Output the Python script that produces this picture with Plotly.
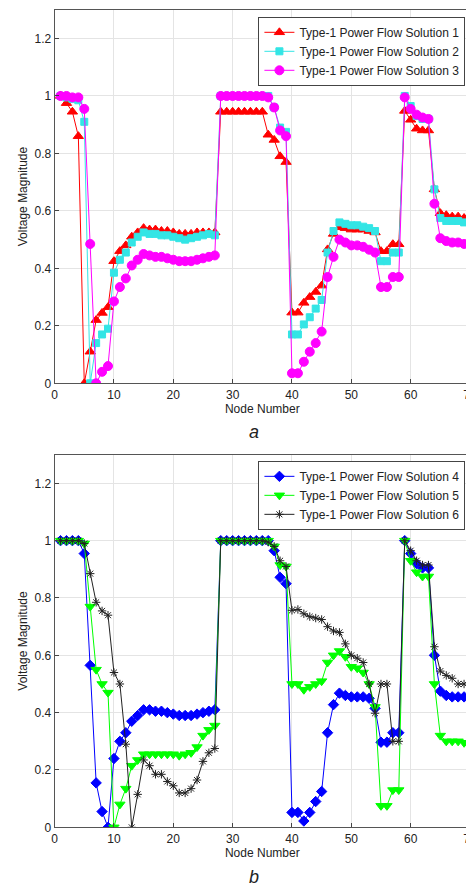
import plotly.graph_objects as go

nodes = list(range(1, 70))
sol1 = [1.0,0.975,0.945,0.86,0.0,0.11,0.22,0.245,0.265,0.425,0.46,0.48,0.51,0.525,0.54,0.535,0.535,0.53,0.53,0.525,0.52,0.52,0.52,0.525,0.525,0.525,0.525,
        0.945,0.945,0.945,0.945,0.945,0.945,0.945,0.945,0.865,0.847,0.79,0.77,0.246,0.246,0.28,0.3,0.318,0.34,0.466,0.52,0.543,0.54,0.535,0.535,0.535,0.53,0.525,
        0.46,0.46,0.484,0.484,0.948,0.917,0.886,0.88,0.88,0.675,0.592,0.585,0.58,0.58,0.575]
sol2 = [1.0,0.995,0.99,0.985,0.91,0.0,0.14,0.17,0.19,0.385,0.43,0.455,0.49,0.51,0.525,0.52,0.52,0.515,0.515,0.51,0.505,0.5,0.505,0.51,0.515,0.52,0.515,
        1.0,1.0,1.0,1.0,1.0,1.0,1.0,1.0,1.0,0.96,0.89,0.875,0.17,0.17,0.205,0.23,0.26,0.29,0.455,0.53,0.56,0.555,0.55,0.55,0.545,0.54,0.53,
        0.425,0.425,0.455,0.455,1.0,0.965,0.93,0.92,0.92,0.675,0.575,0.565,0.565,0.565,0.56]
sol3 = [1.0,1.0,0.995,0.995,0.955,0.485,0.0,0.04,0.06,0.285,0.335,0.365,0.41,0.43,0.45,0.445,0.44,0.44,0.435,0.43,0.425,0.425,0.425,0.43,0.435,0.44,0.445,
        1.0,1.0,1.0,1.0,1.0,1.0,1.0,1.0,0.995,0.96,0.88,0.86,0.035,0.035,0.075,0.11,0.14,0.18,0.37,0.44,0.5,0.49,0.48,0.48,0.475,0.465,0.455,
        0.335,0.335,0.37,0.37,0.995,0.955,0.935,0.925,0.92,0.625,0.505,0.495,0.49,0.49,0.485]
sol4 = [1.0,1.0,1.0,1.0,0.955,0.565,0.155,0.055,0.0,0.24,0.3,0.33,0.37,0.39,0.41,0.41,0.405,0.405,0.4,0.395,0.39,0.39,0.39,0.395,0.4,0.405,0.41,
        1.0,1.0,1.0,1.0,1.0,1.0,1.0,1.0,1.0,0.965,0.872,0.85,0.052,0.052,0.022,0.052,0.09,0.125,0.33,0.428,0.468,0.46,0.455,0.455,0.455,0.45,0.415,
        0.297,0.297,0.33,0.33,1.0,0.955,0.92,0.905,0.905,0.6,0.475,0.46,0.455,0.455,0.455]
sol5 = [1.0,1.0,1.0,1.0,0.99,0.77,0.55,0.5,0.47,0.0,0.08,0.135,0.215,0.235,0.255,0.255,0.255,0.255,0.255,0.255,0.25,0.255,0.26,0.28,0.32,0.34,0.355,
        1.0,1.0,1.0,1.0,1.0,1.0,1.0,1.0,1.0,0.98,0.915,0.91,0.5,0.5,0.48,0.49,0.5,0.51,0.575,0.6,0.615,0.595,0.56,0.555,0.54,0.5,0.42,
        0.075,0.075,0.13,0.13,1.0,0.93,0.89,0.875,0.875,0.5,0.32,0.3,0.3,0.3,0.295]
sol6 = [1.0,1.0,1.0,1.0,0.99,0.885,0.785,0.755,0.74,0.54,0.5,0.29,0.0,0.115,0.235,0.215,0.185,0.185,0.16,0.145,0.12,0.12,0.135,0.165,0.23,0.26,0.275,
        1.0,1.0,1.0,1.0,1.0,1.0,1.0,1.0,0.995,0.98,0.93,0.91,0.757,0.76,0.745,0.735,0.73,0.725,0.7,0.685,0.68,0.64,0.6,0.59,0.575,0.5,0.398,
        0.5,0.5,0.3,0.3,1.0,0.965,0.93,0.915,0.915,0.63,0.545,0.53,0.52,0.5,0.5]

x_ticks = [0, 10, 20, 30, 40, 50, 60, 70]
y_ticks = [0, 0.2, 0.4, 0.6, 0.8, 1, 1.2]
y_labels = ["0", "0.2", "0.4", "0.6", "0.8", "1", "1.2"]

fig = go.Figure()
series = [
    (sol1, "Type-1 Power Flow Solution 1", "#ff0000", "triangle-up", 9, "x", "y", "legend"),
    (sol2, "Type-1 Power Flow Solution 2", "#33e5e5", "square", 7, "x", "y", "legend"),
    (sol3, "Type-1 Power Flow Solution 3", "#ff00ff", "circle", 9, "x", "y", "legend"),
    (sol4, "Type-1 Power Flow Solution 4", "#0000ff", "diamond", 8, "x2", "y2", "legend2"),
    (sol5, "Type-1 Power Flow Solution 5", "#00ff00", "triangle-down", 9, "x2", "y2", "legend2"),
    (sol6, "Type-1 Power Flow Solution 6", "#222222", "asterisk-open", 7, "x2", "y2", "legend2"),
]
for vals, name, col, sym, sz, xa, ya, lg in series:
    fig.add_trace(go.Scatter(x=nodes, y=vals, name=name, mode="lines+markers",
                             line=dict(color=col, width=1),
                             marker=dict(symbol=sym, size=sz, color=col, line=dict(color=col, width=1)),
                             xaxis=xa, yaxis=ya, legend=lg))

ax = dict(showline=True, linecolor="#555", mirror=True, showgrid=True, gridcolor="#e4e4e4",
          ticks="inside", ticklen=4, zeroline=False, tickfont=dict(size=12, color="#222"))
fig.update_layout(
    width=474, height=888, margin=dict(l=0, r=12, t=0, b=0),
    paper_bgcolor="white", plot_bgcolor="white",
    font=dict(family="Liberation Sans, Arial", color="#222"),
    xaxis=dict(ax, domain=[0.095, 1.0], range=[0, 70], tickvals=x_ticks, anchor="y",
               title=dict(text="Node Number", standoff=2, font=dict(size=12))),
    yaxis=dict(ax, domain=[0.574, 0.998], range=[0, 1.3], tickvals=y_ticks, ticktext=y_labels, anchor="x",
               title=dict(text="Voltage Magnitude", standoff=4, font=dict(size=12))),
    xaxis2=dict(ax, domain=[0.095, 1.0], range=[0, 70], tickvals=x_ticks, anchor="y2",
                title=dict(text="Node Number", standoff=2, font=dict(size=12))),
    yaxis2=dict(ax, domain=[0.07, 0.493], range=[0, 1.3], tickvals=y_ticks, ticktext=y_labels, anchor="x2",
                title=dict(text="Voltage Magnitude", standoff=4, font=dict(size=12))),
    legend=dict(x=0.99, y=0.99, xanchor="right", yanchor="top", bgcolor="white",
                bordercolor="#444", borderwidth=1, font=dict(size=12), tracegroupgap=0, itemwidth=30),
    legend2=dict(x=0.99, y=0.486, xanchor="right", yanchor="top", bgcolor="white",
                 bordercolor="#444", borderwidth=1, font=dict(size=12), tracegroupgap=0, itemwidth=30),
    annotations=[
        dict(text="<i>a</i>", x=0.53, y=0.505, xref="paper", yref="paper", yanchor="bottom", showarrow=False, font=dict(size=18)),
        dict(text="<i>b</i>", x=0.53, y=0.0, xref="paper", yref="paper", yanchor="bottom", showarrow=False, font=dict(size=18)),
    ],
)
fig.write_html("out.html")
